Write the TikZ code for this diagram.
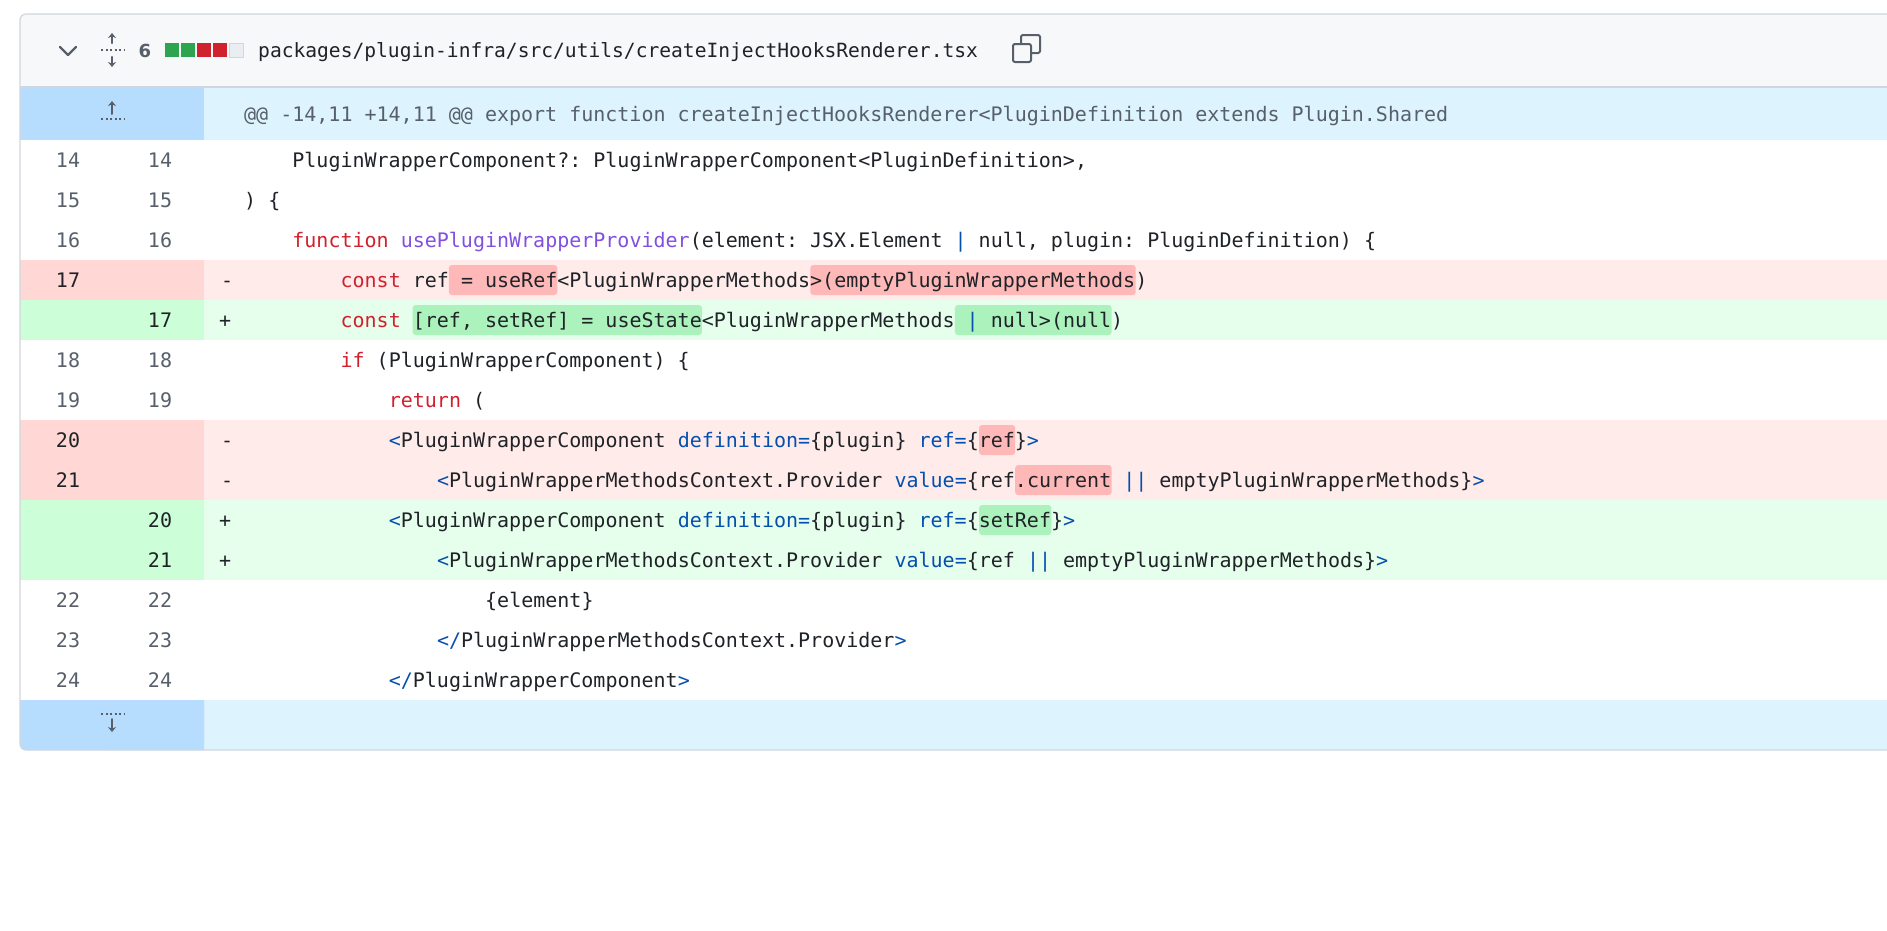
\documentclass[tikz,border=0pt]{standalone}
\usepackage{fontspec}
\setmonofont{DejaVu Sans Mono}
\newfontfamily\uifont{DejaVu Sans}
\usetikzlibrary{arrows.meta}

\definecolor{border}{HTML}{D0D7DE}
\definecolor{headbg}{HTML}{F6F8FA}
\definecolor{fg}{HTML}{1F2328}
\definecolor{muted}{HTML}{57606A}
\definecolor{hunkgut}{HTML}{B6DCFE}
\definecolor{hunkbg}{HTML}{DDF4FF}
\definecolor{delgut}{HTML}{FFD7D5}
\definecolor{delbg}{HTML}{FFEBE9}
\definecolor{delhl}{HTML}{FFB8B8}
\definecolor{addgut}{HTML}{CCFFD8}
\definecolor{addbg}{HTML}{E6FFEC}
\definecolor{addhl}{HTML}{ABF2BC}
\definecolor{kwred}{HTML}{CF222E}
\definecolor{fnpurple}{HTML}{8250DF}
\definecolor{atblue}{HTML}{0550AE}
\definecolor{sqgreen}{HTML}{2DA44E}
\definecolor{sqgray}{HTML}{EAEEF2}

\newcommand\kw[1]{\textcolor{kwred}{#1}}
\newcommand\fn[1]{\textcolor{fnpurple}{#1}}
\newcommand\at[1]{\textcolor{atblue}{#1}}
\def\cw{12.05}

\begin{document}
\begin{tikzpicture}[%
	x=1pt, y=-1pt,%
	code/.style ={anchor=base west, inner sep=0pt, text=fg, font=\ttfamily\fontsize{20}{24}\selectfont},%
	lnum/.style ={anchor=base, inner sep=0pt, text=muted, font=\ttfamily\fontsize{20}{24}\selectfont},%
	icon/.style ={draw=muted, line width=2.2pt, line cap=round, line join=round},%
	]
	\useasboundingbox (0,0) rectangle (1887,930);
	\fill[white] (0,0) rectangle (1887,930);
	\clip (0,0) rectangle (1887,930);
%%% frame
	\fill[headbg, rounded corners=6] (20,14) rectangle (1920,87);
	\fill[hunkbg] (20,87) rectangle (1920,140);
	\fill[hunkgut] (20,87) rectangle (204,140);
	\fill[hunkbg, rounded corners=6] (20,700) rectangle (1920,750);
	\fill[hunkbg] (20,700) rectangle (1920,720);
	\fill[hunkgut, rounded corners=6] (20,700) rectangle (204,750);
	\fill[hunkgut] (20,700) rectangle (204,720) (100,700) rectangle (204,750);
%%% frame
%%% changed rows
	\foreach \y in {280,440,480}
		{\fill[delbg] (204,\y-20) rectangle (1920,\y+20);
		 \fill[delgut] (20,\y-20) rectangle (204,\y+20);}
	\foreach \y in {320,520,560}
		{\fill[addbg] (204,\y-20) rectangle (1920,\y+20);
		 \fill[addgut] (20,\y-20) rectangle (204,\y+20);}
	\foreach \y/\a/\b/\c in {280/17/26/delhl, 280/47/74/delhl, 320/14/38/addhl, 320/59/72/addhl,
		440/61/64/delhl, 480/64/72/delhl, 520/61/67/addhl}
		{\fill[\c, rounded corners=3] (244+\a*\cw,\y-15) rectangle (244+\b*\cw,\y+15);}
%%% changed rows
	\draw[border, line width=1.2pt] (20,87) -- (1920,87);
	\draw[border, line width=1.2pt, rounded corners=6] (1920,14) -- (20,14) -- (20,750) -- (1920,750);
%%% header
	\draw[icon] (60,47) -- (68,55) -- (76,47);
	\draw[icon, -{Stealth[length=5pt,width=8pt]}] (112,43) -- (112,33);
	\draw[icon, -{Stealth[length=5pt,width=8pt]}] (112,57) -- (112,67);
	\draw[muted, line width=2.2pt, dash pattern=on 2pt off 2.5pt] (101,50) -- (124,50);
	\node[anchor=base, inner sep=0pt, text=muted, font=\uifont\bfseries\fontsize{18}{20}\selectfont] (count) at (145,57) {6};
	\foreach \x/\c in {0/sqgreen,1/sqgreen,2/kwred,3/kwred}
		{\fill[\c] (165+\x*16,43) rectangle +(14,14);}
	\filldraw[fill=sqgray, draw=border] (229,43) rectangle +(14,14);
	\node[code, font=\ttfamily\fontsize{19.6}{24}\selectfont] (path) at (258,57) {packages/plugin-infra/src/utils/createInjectHooksRenderer.tsx};
	\draw[icon, line width=2pt, rounded corners=2] (1013,44) rectangle (1031,62);
	\draw[icon, line width=2pt, rounded corners=2] (1021,43) -- (1021,35) -- (1040,35) -- (1040,53) -- (1032,53);
%%% header
%%% hunk
	\draw[icon, line width=2pt, -{Stealth[length=5pt,width=8pt]}] (112,114) -- (112,101);
	\draw[muted, line width=2pt, dash pattern=on 2pt off 2.5pt] (101,119) -- (124,119);
	\draw[muted, line width=2pt, dash pattern=on 2pt off 2.5pt] (101,714) -- (124,714);
	\draw[icon, line width=2pt, -{Stealth[length=5pt,width=8pt]}] (112,719) -- (112,732);
	\node[code, text=muted] (hunk) at (244,121) {@@ -14,11 +14,11 @@ export function createInjectHooksRenderer<PluginDefinition extends Plugin.Shared};
%%% hunk
%%% numbers
	\foreach \y/\o/\n in {160/14/14,200/15/15,240/16/16,360/18/18,400/19/19,600/22/22,640/23/23,680/24/24}
		{\node[lnum] (old\o) at (68,\y+7) {\o}; \node[lnum] (new\n) at (160,\y+7) {\n};}
	\foreach \y/\o in {280/17,440/20,480/21}
		{\node[lnum, text=fg] (del\o) at (68,\y+7) {\o}; \node[code] (dsign\o) at (221,\y+7) {-};}
	\foreach \y/\n in {320/17,520/20,560/21}
		{\node[lnum, text=fg] (add\n) at (160,\y+7) {\n}; \node[code] (asign\n) at (219,\y+7) {+};}
%%% numbers
%%% code
	\node[code] (l14) at (244+4*\cw,167) {PluginWrapperComponent?: PluginWrapperComponent<PluginDefinition>,};
	\node[code] (l15) at (244,207) {) \{};
	\node[code] (l16) at (244+4*\cw,247) {\kw{function} \fn{usePluginWrapperProvider}(element: JSX.Element \at{|} null, plugin: PluginDefinition) \{};
	\node[code] (d17) at (244+8*\cw,287) {\kw{const} ref = useRef<PluginWrapperMethods>(emptyPluginWrapperMethods)};
	\node[code] (a17) at (244+8*\cw,327) {\kw{const} [ref, setRef] = useState<PluginWrapperMethods \at{|} null>(null)};
	\node[code] (l18) at (244+8*\cw,367) {\kw{if} (PluginWrapperComponent) \{};
	\node[code] (l19) at (244+12*\cw,407) {\kw{return} (};
	\node[code] (d20) at (244+12*\cw,447) {\at{<}PluginWrapperComponent \at{definition=}\{plugin\} \at{ref=}\{ref\}\at{>}};
	\node[code] (d21) at (244+16*\cw,487) {\at{<}PluginWrapperMethodsContext.Provider \at{value=}\{ref.current \at{||} emptyPluginWrapperMethods\}\at{>}};
	\node[code] (a20) at (244+12*\cw,527) {\at{<}PluginWrapperComponent \at{definition=}\{plugin\} \at{ref=}\{setRef\}\at{>}};
	\node[code] (a21) at (244+16*\cw,567) {\at{<}PluginWrapperMethodsContext.Provider \at{value=}\{ref \at{||} emptyPluginWrapperMethods\}\at{>}};
	\node[code] (l22) at (244+20*\cw,607) {\{element\}};
	\node[code] (l23) at (244+16*\cw,647) {\at{</}PluginWrapperMethodsContext.Provider\at{>}};
	\node[code] (l24) at (244+12*\cw,687) {\at{</}PluginWrapperComponent\at{>}};
%%% code
\end{tikzpicture}
\end{document}
